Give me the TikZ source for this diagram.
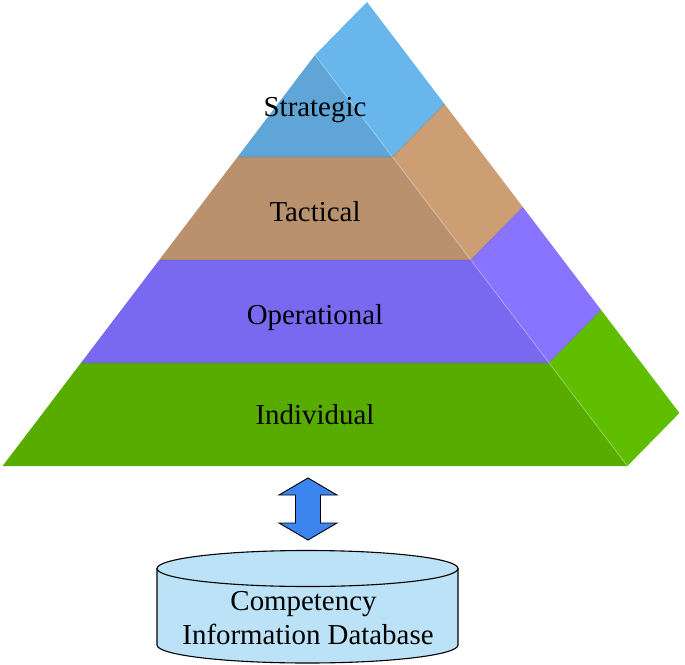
\documentclass[tikz,border=0pt]{standalone}
\usepackage{fontspec}
\setmainfont{Liberation Serif}
\begin{document}
\begin{tikzpicture}[x=1bp,y=-1bp,
  lbl/.style={font=\fontsize{29}{34}\selectfont, inner sep=0pt, anchor=base},
  ridge/.style={draw=white, draw opacity=0.25, line width=1bp},
  seam/.style={draw=black, draw opacity=0.12, line width=0.8bp}]
\useasboundingbox (0,0) rectangle (685,665);
\definecolor{sF}{RGB}{95,165,216}
\definecolor{sS}{RGB}{104,182,236}
\definecolor{tF}{RGB}{185,145,108}
\definecolor{tS}{RGB}{205,157,116}
\definecolor{oF}{RGB}{121,104,240}
\definecolor{oS}{RGB}{136,116,255}
\definecolor{iF}{RGB}{88,172,0}
\definecolor{iS}{RGB}{96,190,0}
\definecolor{arr}{RGB}{61,133,238}
\definecolor{db}{RGB}{187,226,246}
% Strategic
\fill[sF] (315,55) -- (392.5,157) -- (237.5,157) -- cycle;
\fill[sS] (315,55) -- (367,2) -- (444.5,104) -- (392.5,157) -- cycle;
% Tactical
\fill[tF] (237.5,157) -- (392.5,157) -- (470.8,260) -- (159.2,260) -- cycle;
\fill[tS] (392.5,157) -- (444.5,104) -- (522.8,207) -- (470.8,260) -- cycle;
% Operational
\fill[oF] (159.2,260) -- (470.8,260) -- (549.1,363) -- (80.9,363) -- cycle;
\fill[oS] (470.8,260) -- (522.8,207) -- (601.1,310) -- (549.1,363) -- cycle;
% Individual
\fill[iF] (80.9,363) -- (549.1,363) -- (627.4,466) -- (2.6,466) -- cycle;
\fill[iS] (549.1,363) -- (601.1,310) -- (679.4,413) -- (627.4,466) -- cycle;
% edges
\draw[ridge] (315,55) -- (627.4,466);
\draw[seam] (237.5,157) -- (392.5,157) -- (444.5,104);
\draw[seam] (159.2,260) -- (470.8,260) -- (522.8,207);
\draw[seam] (80.9,363) -- (549.1,363) -- (601.1,310);
% labels
\node[lbl] (strat) at (315,117) {Strategic};
\node[lbl] (tact) at (315,221) {Tactical};
\node[lbl] (oper) at (315,324) {Operational};
\node[lbl] (indiv) at (315,424) {Individual};
% double arrow
\draw[fill=arr, line width=0.9bp, line join=miter]
  (308,478) -- (337,495) -- (320.5,495) -- (320.5,523) -- (337,523) -- (308,540)
  -- (279,523) -- (295.5,523) -- (295.5,495) -- (279,495) -- cycle;
% database cylinder
\draw[fill=db, line width=1.1bp]
  (157,568.5) -- (157,645) arc[start angle=180, end angle=0, x radius=150.5, y radius=18] -- (458,568.5) -- cycle;
\draw[fill=db, line width=1.1bp] (307.5,568.5) ellipse[x radius=150.5, y radius=18];
\node[lbl, align=center, anchor=base] (dbtext) at (308,644) {Competency\hspace*{9bp}\\Information Database};
\end{tikzpicture}
\end{document}
